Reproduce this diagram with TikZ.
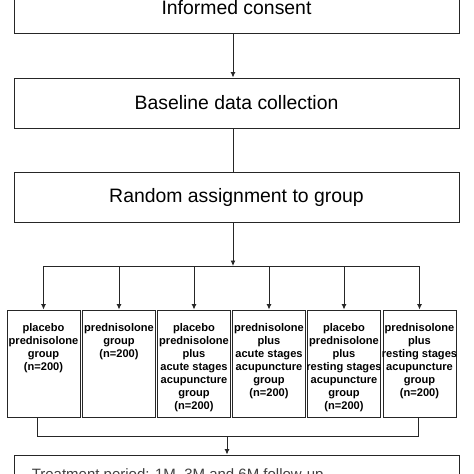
\documentclass[tikz,border=0pt]{standalone}
\usepackage{fontspec}
\setmainfont{Liberation Sans}
\usetikzlibrary{arrows.meta}
\begin{document}
\begin{tikzpicture}[x=1pt,y=-1pt,
  line/.style={draw=black!85, line width=0.9pt},
  arr/.style={line, -{Latex[length=5.5pt,width=5pt]}},
  bigbox/.style={line, minimum width=445pt, minimum height=50pt, inner sep=0pt,
    font=\fontsize{19.4}{23}\selectfont},
  gbox/.style={line, minimum width=73pt, minimum height=107pt, inner sep=0pt},
  gtxt/.style={anchor=north, align=center, inner sep=0pt, yshift=-14pt,
    font=\bfseries\fontsize{11.1}{13}\selectfont}]
\useasboundingbox (0,0) rectangle (474,474);
\clip (0,0) rectangle (474,474);
% main boxes
\node[bigbox] (b1) at (236.5,8) {Informed consent};
\node[bigbox] (b2) at (236.5,103) {Baseline data collection};
\node[bigbox] (b3) at (236.5,197) {Random assignment to group};
\node[bigbox, label={[anchor=north west, inner sep=0pt, xshift=18pt, yshift=-14pt,
   font=\fontsize{15}{18}\selectfont, text=black!75]north west:Treatment period: 1M, 3M and 6M follow-up}] (b4) at (236.5,480) {};
% group boxes
\node[gbox, label={[gtxt]north:{placebo\\prednisolone\\group\\(n=200)}}] (g1) at (43.5,363.5) {};
\node[gbox, label={[gtxt]north:{prednisolone\\group\\(n=200)}}] (g2) at (119,363.5) {};
\node[gbox, label={[gtxt]north:{placebo\\prednisolone\\plus\\acute stages\\acupuncture\\group\\(n=200)}}] (g3) at (194,363.5) {};
\node[gbox, label={[gtxt]north:{prednisolone\\plus\\acute stages\\acupuncture\\group\\(n=200)}}] (g4) at (269,363.5) {};
\node[gbox, label={[gtxt]north:{placebo\\prednisolone\\plus\\resting stages\\acupuncture\\group\\(n=200)}}] (g5) at (344,363.5) {};
\node[gbox, label={[gtxt]north:{prednisolone\\plus\\resting stages\\acupuncture\\group\\(n=200)}}] (g6) at (419.5,363.5) {};
% helper coordinates
\coordinate (cx) at (233,0);
\coordinate (bus) at (233,266);
\coordinate (jl) at (37,436);
\coordinate (jr) at (418,436);
\coordinate (jm) at (227,436);
% connectors
\draw[arr] (b1.south -| cx) -- (b2.north -| cx);
\draw[line] (b2.south -| cx) -- (b3.north -| cx);
\draw[arr] (b3.south -| cx) -- (bus);
\draw[line] (g1.north |- bus) -- (g6.north |- bus);
\foreach \g in {g1,g2,g3,g4,g5,g6}{
  \draw[arr] (\g.north |- bus) -- (\g.north);
}
\draw[line] (g1.south -| jl) -- (jl) -- (jr) -- (g6.south -| jr);
\draw[arr] (jm) -- (b4.north -| jm);
\end{tikzpicture}
\end{document}
